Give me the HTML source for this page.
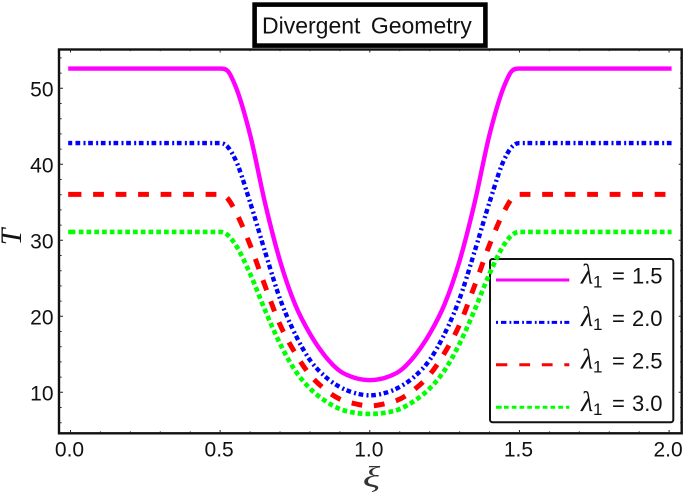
<!DOCTYPE html>
<html lang="en">
<head>
<meta charset="utf-8">
<title>Divergent Geometry</title>
<style>
html,body{margin:0;padding:0;background:#fff;width:685px;height:494px;overflow:hidden}
svg{display:block}
text{font-family:"Liberation Sans",sans-serif;fill:#111}
.greek{font-family:"Liberation Serif",serif;font-style:italic}
</style>
</head>
<body>
<svg id="chart" xmlns="http://www.w3.org/2000/svg" width="685" height="494" viewBox="0 0 685 494">
  <rect x="0" y="0" width="685" height="494" fill="#fff"/>
  <rect x="59" y="49.5" width="622.7" height="383.8" fill="none" stroke="#111" stroke-width="2.4"/>
  <g id="ticks"></g>
  <g id="tick-labels"></g>
  <rect x="254.6" y="4.6" width="230.8" height="41" fill="#fff" stroke="#000" stroke-width="4.6"/>
  <text x="262" y="33.3" font-size="23" word-spacing="4">Divergent Geometry</text>
  <text class="greek" transform="translate(371.5,487) scale(1.35,1)" font-size="30" text-anchor="middle" style="font-weight:normal;fill:#333">ξ</text>
  <text class="greek" transform="translate(21,237) rotate(-90)" font-size="30" text-anchor="middle">T</text>
  <rect x="490" y="259" width="183.3" height="163.3" rx="2.5" ry="2.5" fill="none" stroke="#111" stroke-width="2"/>
  <g id="legend"></g>
  <g id="series"></g>
</svg>
<script>
var xiValues = [0, 0.5, 0.525, 0.55, 0.6, 0.65, 0.7, 0.75, 0.8, 0.85, 0.9, 0.95, 1, 1.05, 1.1, 1.15, 1.2, 1.25, 1.3, 1.35, 1.4, 1.45, 1.475, 1.5, 2];
var seriesLambda15 = [52.6, 52.6, 52.3, 50.4, 43.9, 34.9, 27.3, 21.6, 17.7, 14.8, 12.8, 11.9, 11.6, 11.9, 12.8, 14.8, 17.7, 21.6, 27.3, 34.9, 43.9, 50.4, 52.3, 52.6, 52.6];
var seriesLambda20 = [42.8, 42.8, 42.3, 40.7, 35.0, 28.5, 22.3, 17.7, 14.25, 12.1, 10.7, 9.9, 9.6, 9.9, 10.7, 12.1, 14.25, 17.7, 22.3, 28.5, 35.0, 40.7, 42.3, 42.8, 42.8];
var seriesLambda25 = [36.05, 36.05, 35.5, 33.9, 29.4, 24.0, 18.9, 15.2, 12.3, 10.4, 9.1, 8.5, 8.2, 8.5, 9.1, 10.4, 12.3, 15.2, 18.9, 24.0, 29.4, 33.9, 35.5, 36.05, 36.05];
var seriesLambda30 = [31.1, 31.1, 30.7, 29.5, 25.6, 20.8, 16.4, 12.9, 10.5, 8.9, 7.8, 7.3, 7.15, 7.3, 7.8, 8.9, 10.5, 12.9, 16.4, 20.8, 25.6, 29.5, 30.7, 31.1, 31.1];
var xTickLabels = ["0.0", "0.5", "1.0", "1.5", "2.0"];
var xTickValues = [0, 0.5, 1, 1.5, 2];
var yTickLabels = ["10", "20", "30", "40", "50"];
var yTickValues = [10, 20, 30, 40, 50];
var legendLabels = ["1.5", "2.0", "2.5", "3.0"];

function xScale(v) { return 70.5 + v * 299.3; }
function yScale(v) { return 392.3 - (v - 10) * 7.6; }

var NS = 'http://www.w3.org/2000/svg';
function make(tag, parent) {
  var el = document.createElementNS(NS, tag);
  parent.appendChild(el);
  return el;
}

/* monotone cubic path through the data points */
function curvePath(xs, ys) {
  var n = xs.length, d = [], w = [], m = [], i;
  for (i = 0; i < n - 1; i++) {
    w.push(xs[i + 1] - xs[i]);
    d.push((ys[i + 1] - ys[i]) / w[i]);
  }
  m.push(d[0]);
  for (i = 1; i < n - 1; i++) {
    if (d[i - 1] * d[i] <= 0) { m.push(0); continue; }
    var avg = (d[i - 1] * w[i] + d[i] * w[i - 1]) / (w[i - 1] + w[i]);
    var cap = 3 * Math.min(Math.abs(d[i - 1]), Math.abs(d[i]));
    m.push((d[i] > 0 ? 1 : -1) * Math.min(Math.abs(avg), cap));
  }
  m.push(d[n - 2]);
  var p = 'M' + (xs[0] - 2.3) + ' ' + ys[0] + 'L' + xs[0] + ' ' + ys[0];
  for (i = 0; i < n - 1; i++) {
    var h = w[i] / 3;
    p += 'C' + (xs[i] + h) + ' ' + (ys[i] + m[i] * h) + ' ' + (xs[i + 1] - h) + ' ' + (ys[i + 1] - m[i + 1] * h) + ' ' + xs[i + 1] + ' ' + ys[i + 1];
  }
  p += 'L' + (xs[n - 1] + 2.5) + ' ' + ys[n - 1];
  return p;
}

function dashes(lead, unit) {
  var out = lead.slice(), i;
  for (i = 0; i < 130; i++) out = out.concat(unit);
  return out.join(' ');
}

var seriesList = [
  { key: 'lambda-1-5', values: seriesLambda15, color: '#ff00ff', width: 4.4, dash: null, legendDash: null },
  { key: 'lambda-2-0', values: seriesLambda20, color: '#0000ff', width: 4.4,
    dash: dashes([4, 3.3], [4.7, 3.3, 2, 2.67]), legendDash: dashes([2, 3], [5.4, 3.1, 1.8, 2.37]) },
  { key: 'lambda-2-5', values: seriesLambda25, color: '#ff0000', width: 5,
    dash: dashes([13.2, 11.7], [10.8, 11.7]), legendDash: dashes([11.3, 12], [10.8, 11.7]) },
  { key: 'lambda-3-0', values: seriesLambda30, color: '#00ff00', width: 4.7,
    dash: dashes([7.2, 3.4], [4.7, 3.05]), legendDash: dashes([5.7, 2.3], [4.7, 3.05]) }
];

var ticksG = document.getElementById('ticks');
var labelsG = document.getElementById('tick-labels');
var i, t, v;

/* x ticks */
for (i = 0; i <= 20; i++) {
  v = i / 10;
  var major = i % 5 === 0;
  var len = major ? 3 : 1.6;
  t = make('path', ticksG);
  
  
  t.setAttribute('d', 'M' + xScale(v) + ' 433L' + xScale(v) + ' ' + (433 - len) + 'M' + xScale(v) + ' 49.5L' + xScale(v) + ' ' + (49.5 + len));
  t.setAttribute('stroke', '#222');
  t.setAttribute('stroke-width', '1');
}
/* y ticks */
for (i = 3; i <= 27; i++) {
  v = i * 2;
  var majorY = v % 10 === 0;
  var lenY = majorY ? 3 : 1.6;
  t = make('path', ticksG);
  
  
  t.setAttribute('d', 'M59 ' + yScale(v) + 'L' + (59 + lenY + 1) + ' ' + yScale(v) + 'M681.7 ' + yScale(v) + 'L' + (681.7 - lenY) + ' ' + yScale(v));
  t.setAttribute('stroke', '#222');
  t.setAttribute('stroke-width', '1');
}
/* tick labels */
xTickValues.forEach(function (val, k) {
  var el = make('text', labelsG);
  
  
  el.setAttribute('x', xScale(val) - 1);
  el.setAttribute('y', 456.7);
  el.setAttribute('font-size', '21');
  el.setAttribute('text-anchor', 'middle');
  el.textContent = xTickLabels[k];
});
yTickValues.forEach(function (val, k) {
  var el = make('text', labelsG);
  
  
  el.setAttribute('x', 53.5);
  el.setAttribute('y', yScale(val) + 8);
  el.setAttribute('font-size', '21');
  el.setAttribute('text-anchor', 'end');
  el.textContent = yTickLabels[k];
});

/* series */
var seriesG = document.getElementById('series');
var xPixels = xiValues.map(xScale);
seriesList.forEach(function (s) {
  var line = make('path', seriesG);
  
  
  line.setAttribute('d', curvePath(xPixels, s.values.map(yScale)));
  line.setAttribute('fill', 'none');
  line.setAttribute('stroke', s.color);
  line.setAttribute('stroke-width', s.width);
  line.setAttribute('stroke-linejoin', 'round');
  if (s.dash) line.setAttribute('stroke-dasharray', s.dash);
});

/* legend */
var legendG = document.getElementById('legend');
seriesList.forEach(function (s, k) {
  var rowY = 280 + k * 42.4;
  var baseY = 283.3 + k * 42.5;
  var key = make('line', legendG);
  
  
  key.setAttribute('x1', 496);
  key.setAttribute('x2', 569.3);
  key.setAttribute('y1', rowY);
  key.setAttribute('y2', rowY);
  key.setAttribute('stroke', s.color);
  key.setAttribute('stroke-width', '3');
  if (s.legendDash) key.setAttribute('stroke-dasharray', s.legendDash);

  var lam = make('text', legendG);
  
  
  lam.setAttribute('class', 'greek');
  lam.setAttribute('x', 581);
  lam.setAttribute('y', baseY);
  lam.setAttribute('font-size', '28');
  lam.textContent = 'λ';

  var sub = make('text', legendG);
  
  
  sub.setAttribute('x', 593);
  sub.setAttribute('y', baseY + 4);
  sub.setAttribute('font-size', '17');
  sub.textContent = '1';

  var eq = make('text', legendG);
  
  
  eq.setAttribute('x', 612);
  eq.setAttribute('y', baseY);
  eq.setAttribute('font-size', '22');
  eq.setAttribute('word-spacing', '1');
  eq.textContent = '= ' + legendLabels[k];
});
</script>
</body>
</html>
